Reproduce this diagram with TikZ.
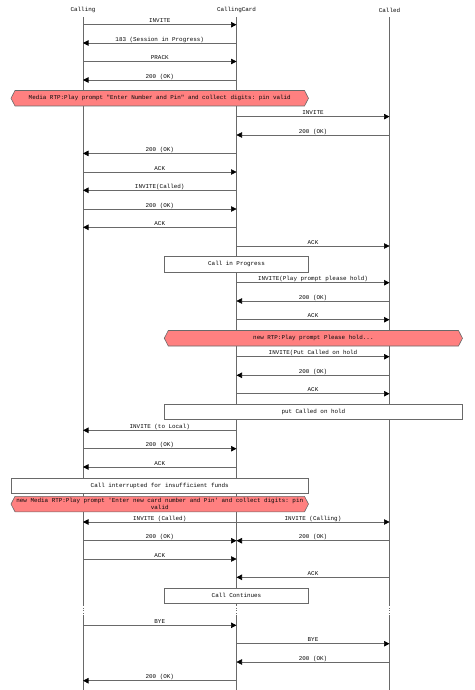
\documentclass[tikz,border=0pt]{standalone}
\usepackage{fontspec}
\setmonofont{Liberation Mono}
\usetikzlibrary{arrows.meta}
\definecolor{ln}{RGB}{105,105,105}
\definecolor{rtpfill}{RGB}{255,128,128}
\definecolor{txt}{RGB}{10,10,10}
\tikzset{
  every node/.style={font=\ttfamily\fontsize{5.9}{6.6}\selectfont, text=txt},
  head/.style={inner sep=0pt},
  life/.style={draw=ln, line width=0.6pt},
  msg/.style={draw=ln, line width=0.6pt, -{Triangle[length=5.5pt,width=5.5pt,color=black]}},
  lbl/.style={above, inner sep=0pt, yshift=1.6pt, text depth=0pt},
  note/.style={draw=ln, fill=white, line width=0.6pt, minimum height=15.4pt, inner sep=0pt},
  rtp/.style={draw=ln, fill=rtpfill, line width=0.6pt},
}
% #1 from lifeline, #2 to lifeline, #3 y, #4 label
\newcommand\sqmsg[4]{\draw[msg] (#1 |- 0,#3) -- node[lbl]{#4} (#2 |- 0,#3);}
% #1 name, #2 x1, #3 x2, #4 y1, #5 y2, #6 text
\newcommand\rtpbox[6]{%
  \draw[rtp] (#2,{(#4+#5)/2}) -- (#2+4,#4) -- (#3-4,#4) -- (#3,{(#4+#5)/2}) -- (#3-4,#5) -- (#2+4,#5) -- cycle;
  \node[align=center, inner sep=0pt] (#1) at ({(#2+#3)/2},{(#4+#5)/2}) {#6};}
\begin{document}
\begin{tikzpicture}[x=1pt,y=-1pt]
\useasboundingbox (0,0) rectangle (474,690);

% lifeline heads
\node[head] (A) at (83,10) {Calling};
\node[head] (B) at (236.5,10) {CallingCard};
\node[head] (C) at (389.5,10) {Called};
\coordinate (Aend) at (83,690);
\coordinate (Bend) at (236.5,690);
\coordinate (Cend) at (389.5,690);

% lifelines
\foreach \n in {A,B,C}{
  \draw[life] (\n |- 0,17) -- (\n |- 0,605);
  \draw[life, dotted] (\n |- 0,605) -- (\n |- 0,616);
  \draw[life] (\n |- 0,616) -- (\n end);
}

\sqmsg{A}{B}{24.7}{INVITE}
\sqmsg{B}{A}{43}{183 (Session in Progress)}
\sqmsg{A}{B}{61.5}{PRACK}
\sqmsg{B}{A}{80}{200 (OK)}

\rtpbox{rtp1}{11}{308.5}{90.5}{106}{Media RTP:Play prompt "Enter Number and Pin" and collect digits: pin valid}

\sqmsg{B}{C}{116.6}{INVITE}
\sqmsg{C}{B}{135}{200 (OK)}
\sqmsg{B}{A}{153.4}{200 (OK)}
\sqmsg{A}{B}{172}{ACK}
\sqmsg{B}{A}{190.3}{INVITE(Called)}
\sqmsg{A}{B}{209}{200 (OK)}
\sqmsg{B}{A}{227.3}{ACK}
\sqmsg{B}{C}{246}{ACK}

\node[note, minimum width=144.4pt] (n1) at (236.5,264.4) {Call in Progress};

\sqmsg{B}{C}{282.7}{INVITE(Play prompt please hold)}
\sqmsg{C}{B}{301}{200 (OK)}
\sqmsg{B}{C}{319.7}{ACK}

\rtpbox{rtp2}{164.3}{462.5}{330.5}{346}{new RTP:Play prompt Please hold...}

\sqmsg{B}{C}{356.7}{INVITE(Put Called on hold}
\sqmsg{C}{B}{375.3}{200 (OK)}
\sqmsg{B}{C}{393.7}{ACK}

\node[note, minimum width=298.2pt] (n2) at (313.4,412) {put Called on hold};

\sqmsg{B}{A}{430.3}{INVITE (to Local)}
\sqmsg{A}{B}{448.7}{200 (OK)}
\sqmsg{B}{A}{467}{ACK}

\node[note, minimum width=297.5pt] (n3) at (159.75,486) {Call interrupted for insufficient funds};

\rtpbox{rtp3}{11}{308.5}{496.3}{511.8}{new Media RTP:Play prompt 'Enter new card number and Pin' and collect digits: pin\\valid}

\sqmsg{B}{A}{522}{INVITE (Called)}
\sqmsg{B}{C}{522}{INVITE (Calling)}
\sqmsg{A}{B}{540.7}{200 (OK)}
\sqmsg{C}{B}{540.7}{200 (OK)}
\sqmsg{A}{B}{559}{ACK}
\sqmsg{C}{B}{577.3}{ACK}

\node[note, minimum width=144.4pt] (n4) at (236.5,595.6) {Call Continues};

\sqmsg{A}{B}{625.3}{BYE}
\sqmsg{B}{C}{643.7}{BYE}
\sqmsg{C}{B}{662}{200 (OK)}
\sqmsg{B}{A}{680.7}{200 (OK)}
\end{tikzpicture}
\end{document}
